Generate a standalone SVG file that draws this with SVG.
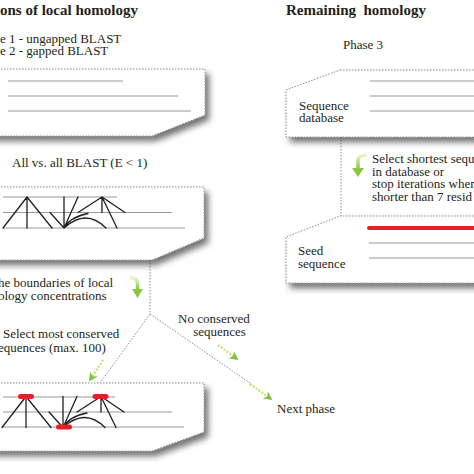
<svg xmlns="http://www.w3.org/2000/svg" width="474" height="474" viewBox="0 0 474 474">
<defs>
<filter id="sh" x="-20%" y="-20%" width="150%" height="160%">
<feDropShadow dx="4" dy="5" stdDeviation="3" flood-color="#000" flood-opacity="0.55"/>
</filter>
<linearGradient id="gg" x1="0" y1="0" x2="0" y2="1">
<stop offset="0" stop-color="#eef5c8"/>
<stop offset="1" stop-color="#86c440"/>
</linearGradient>
<marker id="gh" markerUnits="userSpaceOnUse" markerWidth="9" markerHeight="9" viewBox="0 0 10 10" refX="8" refY="5" orient="auto">
<path d="M0,0 L10,5 L0,10 L3,5 z" fill="#7cc142"/>
</marker>
<g id="motif">
<path d="M27,197 L3,228 M27,197 L27,228 M27,197 L52,228 M64,228 L50,212.5 M64,228 L64,197 M64,228 L78,197 M64,228 Q70,217 88,213.5 M64,228 Q86,208 106,228 M102,197 L78,212.5 M102,197 L102,212.5 M102,197 L125,212.5 M102,197 L117,228"/>
</g>
</defs>
<style>
.box{fill:#fff;stroke:#8a8a8a;stroke-width:1;stroke-dasharray:1.5 1.5;filter:url(#sh)}
.gl{stroke:#9a9a9a;stroke-width:1.1;fill:none}
.dk{stroke:#231f20;stroke-width:1.3;fill:none;stroke-linecap:round}
.t{font-family:"Liberation Serif","Times New Roman",serif;font-size:13px;fill:#231f20}
.h{font-family:"Liberation Serif","Times New Roman",serif;font-size:15px;font-weight:bold;fill:#231f20}
.con{stroke:#8f8f8f;stroke-width:1;stroke-dasharray:1.5 1.5;fill:none}
.ga{stroke:#c9e27e;stroke-width:2.5;stroke-dasharray:2 1.5;fill:none}
.red{fill:#e1202b}
</style>
<rect width="474" height="474" fill="#fff"/>

<g id="titles">
<text class="h" x="0" y="15">ons of local homology</text>
<text class="h" x="286" y="15" xml:space="preserve">Remaining  homology</text>
<text class="t" x="0" y="43">e 1 - ungapped BLAST</text>
<text class="t" x="0" y="55">e 2 - gapped BLAST</text>
<text class="t" x="343" y="49">Phase 3</text>
</g>

<g id="connectors">
<path class="con" d="M150,260 L150,314 L100,383"/>
<path class="con" d="M150,314 L250,383"/>
<path class="con" d="M341,137 L341,216"/>
<path class="ga" d="M103,360 L90,380" marker-end="url(#gh)"/>
<path class="ga" d="M218,345 L237,359" marker-end="url(#gh)"/>
<path class="ga" d="M250,384 L271,399" marker-end="url(#gh)"/>
<path d="M130,277.5 Q137.5,277 137.5,284 L137.5,290" stroke="url(#gg)" stroke-width="3.5" fill="none"/>
<path d="M132,289 L143,289 L137.5,298 z" fill="#8cc63f"/>
<path d="M367,155 Q358,154.5 358,161 L358,169" stroke="url(#gg)" stroke-width="3.5" fill="none"/>
<path d="M352,168 L364,168 L358,177 z" fill="#8cc63f"/>
</g>

<g id="box1">
<path class="box" d="M-20,69 L205,69 L205,115 L152,136 L-20,136 Z"/>
<path class="gl" d="M8,81 H123 M8,96 H178 M8,111 H191"/>
</g>

<g id="allvsall">
<text class="t" x="12" y="167">All vs. all BLAST (E &lt; 1)</text>
</g>

<g id="box2">
<path class="box" d="M-20,187 L204,187 L204,238 L152,260 L-20,260 Z"/>
<path class="gl" d="M3,197 H117 M3,212.5 H172 M3,228 H185"/>
<use href="#motif" class="dk"/>
</g>

<g id="boundaries">
<text class="t" x="-2" y="287">he boundaries of local</text>
<text class="t" x="-2" y="299.5">ology concentrations</text>
</g>

<g id="select">
<text class="t" x="3" y="338">Select most conserved</text>
<text class="t" x="-2" y="352">equences (max. 100)</text>
</g>

<g id="noconserved">
<text class="t" x="178" y="323">No conserved</text>
<text class="t" x="219.5" y="335.5" text-anchor="middle">sequences</text>
</g>

<g id="nextphase">
<text class="t" x="277" y="413">Next phase</text>
</g>

<g id="box3">
<path class="box" d="M-20,383 L204,383 L204,432 L152,451 L-20,451 Z"/>
<path class="gl" d="M3,397 H115 M3,412 H172 M3,427 H184"/>
<use href="#motif" class="dk" transform="translate(-1,199.5)"/>
<rect class="red" x="18" y="394" width="16" height="5" rx="2.5"/>
<rect class="red" x="56" y="424.5" width="16" height="5" rx="2.5"/>
<rect class="red" x="92.5" y="394" width="16" height="5" rx="2.5"/>
</g>

<g id="box4">
<path class="box" d="M340,70 L490,70 L490,137 L286,137 L286,90 Z"/>
<path class="gl" d="M370,81 H490 M370,96 H490 M370,111 H490"/>
<text class="t" x="299" y="110">Sequence</text>
<text class="t" x="299" y="122">database</text>
</g>

<g id="shortest">
<text class="t" x="372" y="163">Select shortest sequ</text>
<text class="t" x="372" y="175.7">in database or</text>
<text class="t" x="372" y="188.4">stop iterations when</text>
<text class="t" x="372" y="201.1">shorter than 7 resid</text>
</g>

<g id="box5">
<path class="box" d="M340,216 L490,216 L490,283 L286,283 L286,237 Z"/>
<path d="M369,228 H490" stroke="#e1202b" stroke-width="4" stroke-linecap="round"/>
<path class="gl" d="M369,243 H490 M369,258 H490"/>
<text class="t" x="298" y="255">Seed</text>
<text class="t" x="298" y="268">sequence</text>
</g>
</svg>
